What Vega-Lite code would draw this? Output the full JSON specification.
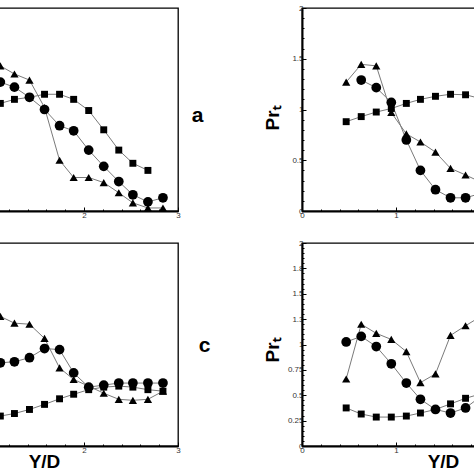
{
  "$schema": "https://vega.github.io/schema/vega-lite/v6.json",
  "background": "white",
  "padding": {"left": -107, "top": 3, "right": -111, "bottom": 0},
  "columns": 2,
  "spacing": {"row": 32, "column": 124},
  "bounds": "flush",
  "datasets": {
    "pr": [
      {"panel": "a", "series": "tr", "yd": 1.11, "prt": 1.43},
      {"panel": "a", "series": "tr", "yd": 1.26, "prt": 1.35},
      {"panel": "a", "series": "tr", "yd": 1.42, "prt": 1.29},
      {"panel": "a", "series": "tr", "yd": 1.58, "prt": 1.02},
      {"panel": "a", "series": "tr", "yd": 1.74, "prt": 0.5},
      {"panel": "a", "series": "tr", "yd": 1.89, "prt": 0.33},
      {"panel": "a", "series": "tr", "yd": 2.05, "prt": 0.33},
      {"panel": "a", "series": "tr", "yd": 2.21, "prt": 0.28},
      {"panel": "a", "series": "tr", "yd": 2.37, "prt": 0.18},
      {"panel": "a", "series": "tr", "yd": 2.52, "prt": 0.08},
      {"panel": "a", "series": "tr", "yd": 2.68, "prt": 0.03},
      {"panel": "a", "series": "tr", "yd": 2.84, "prt": 0.03},
      {"panel": "a", "series": "ci", "yd": 1.11, "prt": 1.27},
      {"panel": "a", "series": "ci", "yd": 1.26, "prt": 1.22},
      {"panel": "a", "series": "ci", "yd": 1.42, "prt": 1.12},
      {"panel": "a", "series": "ci", "yd": 1.58, "prt": 1.0},
      {"panel": "a", "series": "ci", "yd": 1.74, "prt": 0.84},
      {"panel": "a", "series": "ci", "yd": 1.89, "prt": 0.79},
      {"panel": "a", "series": "ci", "yd": 2.05, "prt": 0.6},
      {"panel": "a", "series": "ci", "yd": 2.21, "prt": 0.44},
      {"panel": "a", "series": "ci", "yd": 2.37, "prt": 0.29},
      {"panel": "a", "series": "ci", "yd": 2.52, "prt": 0.16},
      {"panel": "a", "series": "ci", "yd": 2.68, "prt": 0.09},
      {"panel": "a", "series": "ci", "yd": 2.84, "prt": 0.13},
      {"panel": "a", "series": "sq", "yd": 1.11, "prt": 1.06},
      {"panel": "a", "series": "sq", "yd": 1.26, "prt": 1.1},
      {"panel": "a", "series": "sq", "yd": 1.42, "prt": 1.12},
      {"panel": "a", "series": "sq", "yd": 1.58, "prt": 1.15},
      {"panel": "a", "series": "sq", "yd": 1.74, "prt": 1.15},
      {"panel": "a", "series": "sq", "yd": 1.89, "prt": 1.1},
      {"panel": "a", "series": "sq", "yd": 2.05, "prt": 0.99},
      {"panel": "a", "series": "sq", "yd": 2.21, "prt": 0.8},
      {"panel": "a", "series": "sq", "yd": 2.37, "prt": 0.6},
      {"panel": "a", "series": "sq", "yd": 2.52, "prt": 0.47},
      {"panel": "a", "series": "sq", "yd": 2.68, "prt": 0.4},
      {"panel": "b", "series": "tr", "yd": 0.47, "prt": 1.27},
      {"panel": "b", "series": "tr", "yd": 0.63, "prt": 1.445},
      {"panel": "b", "series": "tr", "yd": 0.79, "prt": 1.43},
      {"panel": "b", "series": "tr", "yd": 0.95, "prt": 0.97},
      {"panel": "b", "series": "tr", "yd": 1.11, "prt": 0.76},
      {"panel": "b", "series": "tr", "yd": 1.26, "prt": 0.68},
      {"panel": "b", "series": "tr", "yd": 1.42, "prt": 0.58},
      {"panel": "b", "series": "tr", "yd": 1.58, "prt": 0.42},
      {"panel": "b", "series": "tr", "yd": 1.74, "prt": 0.355},
      {"panel": "b", "series": "tr", "yd": 1.89, "prt": 0.29},
      {"panel": "b", "series": "ci", "yd": 0.63, "prt": 1.29},
      {"panel": "b", "series": "ci", "yd": 0.79, "prt": 1.215},
      {"panel": "b", "series": "ci", "yd": 0.95, "prt": 1.07},
      {"panel": "b", "series": "ci", "yd": 1.11, "prt": 0.7},
      {"panel": "b", "series": "ci", "yd": 1.26, "prt": 0.4},
      {"panel": "b", "series": "ci", "yd": 1.42, "prt": 0.21},
      {"panel": "b", "series": "ci", "yd": 1.58, "prt": 0.13},
      {"panel": "b", "series": "ci", "yd": 1.74, "prt": 0.13},
      {"panel": "b", "series": "ci", "yd": 1.89, "prt": 0.17},
      {"panel": "b", "series": "sq", "yd": 0.47, "prt": 0.88},
      {"panel": "b", "series": "sq", "yd": 0.63, "prt": 0.93},
      {"panel": "b", "series": "sq", "yd": 0.79, "prt": 0.975},
      {"panel": "b", "series": "sq", "yd": 0.95, "prt": 1.01},
      {"panel": "b", "series": "sq", "yd": 1.11, "prt": 1.06},
      {"panel": "b", "series": "sq", "yd": 1.26, "prt": 1.1},
      {"panel": "b", "series": "sq", "yd": 1.42, "prt": 1.13},
      {"panel": "b", "series": "sq", "yd": 1.58, "prt": 1.15},
      {"panel": "b", "series": "sq", "yd": 1.74, "prt": 1.145},
      {"panel": "b", "series": "sq", "yd": 1.89, "prt": 1.11},
      {"panel": "c", "series": "tr", "yd": 1.11, "prt": 1.277},
      {"panel": "c", "series": "tr", "yd": 1.26, "prt": 1.21},
      {"panel": "c", "series": "tr", "yd": 1.42, "prt": 1.2},
      {"panel": "c", "series": "tr", "yd": 1.58, "prt": 1.06},
      {"panel": "c", "series": "tr", "yd": 1.74, "prt": 0.77},
      {"panel": "c", "series": "tr", "yd": 1.89, "prt": 0.655},
      {"panel": "c", "series": "tr", "yd": 2.05, "prt": 0.59},
      {"panel": "c", "series": "tr", "yd": 2.21, "prt": 0.52},
      {"panel": "c", "series": "tr", "yd": 2.37, "prt": 0.46},
      {"panel": "c", "series": "tr", "yd": 2.52, "prt": 0.45},
      {"panel": "c", "series": "tr", "yd": 2.68, "prt": 0.46},
      {"panel": "c", "series": "tr", "yd": 2.84, "prt": 0.54},
      {"panel": "c", "series": "ci", "yd": 1.11, "prt": 0.82},
      {"panel": "c", "series": "ci", "yd": 1.26, "prt": 0.83},
      {"panel": "c", "series": "ci", "yd": 1.42, "prt": 0.87},
      {"panel": "c", "series": "ci", "yd": 1.58, "prt": 0.96},
      {"panel": "c", "series": "ci", "yd": 1.74, "prt": 0.95},
      {"panel": "c", "series": "ci", "yd": 1.89, "prt": 0.72},
      {"panel": "c", "series": "ci", "yd": 2.05, "prt": 0.58},
      {"panel": "c", "series": "ci", "yd": 2.21, "prt": 0.6},
      {"panel": "c", "series": "ci", "yd": 2.37, "prt": 0.62},
      {"panel": "c", "series": "ci", "yd": 2.52, "prt": 0.62},
      {"panel": "c", "series": "ci", "yd": 2.68, "prt": 0.62},
      {"panel": "c", "series": "ci", "yd": 2.84, "prt": 0.62},
      {"panel": "c", "series": "sq", "yd": 1.11, "prt": 0.295},
      {"panel": "c", "series": "sq", "yd": 1.26, "prt": 0.32},
      {"panel": "c", "series": "sq", "yd": 1.42, "prt": 0.36},
      {"panel": "c", "series": "sq", "yd": 1.58, "prt": 0.41},
      {"panel": "c", "series": "sq", "yd": 1.74, "prt": 0.465},
      {"panel": "c", "series": "sq", "yd": 1.89, "prt": 0.51},
      {"panel": "c", "series": "sq", "yd": 2.05, "prt": 0.555},
      {"panel": "c", "series": "sq", "yd": 2.21, "prt": 0.58},
      {"panel": "c", "series": "sq", "yd": 2.37, "prt": 0.59},
      {"panel": "c", "series": "sq", "yd": 2.52, "prt": 0.58},
      {"panel": "c", "series": "sq", "yd": 2.68, "prt": 0.555},
      {"panel": "c", "series": "sq", "yd": 2.84, "prt": 0.54},
      {"panel": "d", "series": "tr", "yd": 0.47, "prt": 0.66},
      {"panel": "d", "series": "tr", "yd": 0.63, "prt": 1.2},
      {"panel": "d", "series": "tr", "yd": 0.79, "prt": 1.11},
      {"panel": "d", "series": "tr", "yd": 0.95, "prt": 1.05},
      {"panel": "d", "series": "tr", "yd": 1.11, "prt": 0.93},
      {"panel": "d", "series": "tr", "yd": 1.26, "prt": 0.625},
      {"panel": "d", "series": "tr", "yd": 1.42, "prt": 0.71},
      {"panel": "d", "series": "tr", "yd": 1.58, "prt": 1.09},
      {"panel": "d", "series": "tr", "yd": 1.74, "prt": 1.185},
      {"panel": "d", "series": "tr", "yd": 1.89, "prt": 1.27},
      {"panel": "d", "series": "ci", "yd": 0.47, "prt": 1.025},
      {"panel": "d", "series": "ci", "yd": 0.63, "prt": 1.08},
      {"panel": "d", "series": "ci", "yd": 0.79, "prt": 0.98},
      {"panel": "d", "series": "ci", "yd": 0.95, "prt": 0.81},
      {"panel": "d", "series": "ci", "yd": 1.11, "prt": 0.62},
      {"panel": "d", "series": "ci", "yd": 1.26, "prt": 0.46},
      {"panel": "d", "series": "ci", "yd": 1.42, "prt": 0.36},
      {"panel": "d", "series": "ci", "yd": 1.58, "prt": 0.325},
      {"panel": "d", "series": "ci", "yd": 1.74, "prt": 0.375},
      {"panel": "d", "series": "ci", "yd": 1.89, "prt": 0.48},
      {"panel": "d", "series": "sq", "yd": 0.47, "prt": 0.375},
      {"panel": "d", "series": "sq", "yd": 0.63, "prt": 0.315},
      {"panel": "d", "series": "sq", "yd": 0.79, "prt": 0.285},
      {"panel": "d", "series": "sq", "yd": 0.95, "prt": 0.285},
      {"panel": "d", "series": "sq", "yd": 1.11, "prt": 0.295},
      {"panel": "d", "series": "sq", "yd": 1.26, "prt": 0.325},
      {"panel": "d", "series": "sq", "yd": 1.42, "prt": 0.36},
      {"panel": "d", "series": "sq", "yd": 1.58, "prt": 0.415},
      {"panel": "d", "series": "sq", "yd": 1.74, "prt": 0.47},
      {"panel": "d", "series": "sq", "yd": 1.89, "prt": 0.51}
    ]
  },
  "concat": [
    {
      "width": 282, "height": 203,
      "data": {"name": "pr"},
      "transform": [{"filter": "datum.panel === 'a'"}],
      "layer": [
        {
          "mark": {"type": "line", "color": "#7a7a7a", "strokeWidth": 1},
          "encoding": {
            "x": {"field": "yd", "type": "quantitative", "scale": {"domain": [0, 3], "nice": false},
                  "axis": {"values": [0, 1, 2, 3], "tickSize": -4, "domainWidth": 2, "labelPadding": 4, "title": null}},
            "y": {"field": "prt", "type": "quantitative", "scale": {"domain": [0, 2], "nice": false},
                  "axis": {"orient": "right", "labels": false, "ticks": false, "domain": false, "title": "a",
                           "titleAngle": 0, "titleX": 19, "titleY": 107, "titleAlign": "center", "titleBaseline": "middle", "titleFontSize": 21}},
            "detail": {"field": "series"}
          }
        },
        {
          "mark": {"type": "point", "filled": true, "color": "black", "opacity": 1},
          "encoding": {
            "x": {"field": "yd", "type": "quantitative",
                  "axis": {"orient": "bottom", "values": [0, 0.2, 0.4, 0.6, 0.8, 1, 1.2, 1.4, 1.6, 1.8, 2, 2.2, 2.4, 2.6, 2.8, 3], "labels": false, "domain": false, "tickSize": -2, "title": null}},
            "y": {"field": "prt", "type": "quantitative", "axis": null},
            "shape": {"field": "series", "type": "nominal", "scale": {"domain": ["sq", "ci", "tr"], "range": ["square", "circle", "triangle-up"]}, "legend": null},
            "size": {"field": "series", "type": "nominal", "scale": {"type": "ordinal", "domain": ["sq", "ci", "tr"], "range": [48, 95, 68]}, "legend": null}
          }
        }
      ],
      "resolve": {"axis": {"x": "independent", "y": "independent"}}
    },
    {
      "width": 282, "height": 203,
      "data": {"name": "pr"},
      "transform": [{"filter": "datum.panel === 'b'"}],
      "layer": [
        {
          "mark": {"type": "line", "color": "#7a7a7a", "strokeWidth": 1},
          "encoding": {
            "x": {"field": "yd", "type": "quantitative", "scale": {"domain": [0, 3], "nice": false},
                  "axis": {"values": [0, 1, 2, 3], "tickSize": -4, "domainWidth": 2, "labelPadding": 4, "title": null}},
            "y": {"field": "prt", "type": "quantitative", "scale": {"domain": [0, 2], "nice": false},
                  "axis": {"values": [0, 0.5, 1, 1.5, 2], "format": "~g", "tickSize": -4, "domainWidth": 2, "title": "Prₜ",
                           "titleAngle": 270, "titleX": -24, "titleY": 110, "titleAlign": "center", "titleBaseline": "alphabetic"}},
            "detail": {"field": "series"}
          }
        },
        {
          "mark": {"type": "point", "filled": true, "color": "black", "opacity": 1},
          "encoding": {
            "x": {"field": "yd", "type": "quantitative",
                  "axis": {"orient": "bottom", "values": [0, 0.2, 0.4, 0.6, 0.8, 1, 1.2, 1.4, 1.6, 1.8, 2, 2.2, 2.4, 2.6, 2.8, 3], "labels": false, "domain": false, "tickSize": -2, "title": null}},
            "y": {"field": "prt", "type": "quantitative",
                  "axis": {"orient": "left", "values": [0, 0.1, 0.2, 0.3, 0.4, 0.5, 0.6, 0.7, 0.8, 0.9, 1, 1.1, 1.2, 1.3, 1.4, 1.5, 1.6, 1.7, 1.8, 1.9, 2], "labels": false, "domain": false, "tickSize": -2, "title": null}},
            "shape": {"field": "series", "type": "nominal", "scale": {"domain": ["sq", "ci", "tr"], "range": ["square", "circle", "triangle-up"]}, "legend": null},
            "size": {"field": "series", "type": "nominal", "scale": {"type": "ordinal", "domain": ["sq", "ci", "tr"], "range": [48, 95, 68]}, "legend": null}
          }
        }
      ],
      "resolve": {"axis": {"x": "independent", "y": "independent"}}
    },
    {
      "width": 282, "height": 203,
      "data": {"name": "pr"},
      "transform": [{"filter": "datum.panel === 'c'"}],
      "layer": [
        {
          "mark": {"type": "line", "color": "#7a7a7a", "strokeWidth": 1},
          "encoding": {
            "x": {"field": "yd", "type": "quantitative", "scale": {"domain": [0, 3], "nice": false},
                  "axis": {"values": [0, 1, 2, 3], "tickSize": -4, "domainWidth": 2, "labelPadding": 4, "title": "Y/D",
                           "titleX": 148, "titleY": 21, "titleAlign": "center", "titleBaseline": "alphabetic"}},
            "y": {"field": "prt", "type": "quantitative", "scale": {"domain": [0, 2], "nice": false},
                  "axis": {"orient": "right", "labels": false, "ticks": false, "domain": false, "title": "c",
                           "titleAngle": 0, "titleX": 26, "titleY": 102, "titleAlign": "center", "titleBaseline": "middle", "titleFontSize": 21}},
            "detail": {"field": "series"}
          }
        },
        {
          "mark": {"type": "point", "filled": true, "color": "black", "opacity": 1},
          "encoding": {
            "x": {"field": "yd", "type": "quantitative",
                  "axis": {"orient": "bottom", "values": [0, 0.2, 0.4, 0.6, 0.8, 1, 1.2, 1.4, 1.6, 1.8, 2, 2.2, 2.4, 2.6, 2.8, 3], "labels": false, "domain": false, "tickSize": -2, "title": null}},
            "y": {"field": "prt", "type": "quantitative", "axis": null},
            "shape": {"field": "series", "type": "nominal", "scale": {"domain": ["sq", "ci", "tr"], "range": ["square", "circle", "triangle-up"]}, "legend": null},
            "size": {"field": "series", "type": "nominal", "scale": {"type": "ordinal", "domain": ["sq", "ci", "tr"], "range": [48, 95, 68]}, "legend": null}
          }
        }
      ],
      "resolve": {"axis": {"x": "independent", "y": "independent"}}
    },
    {
      "width": 282, "height": 203,
      "data": {"name": "pr"},
      "transform": [{"filter": "datum.panel === 'd'"}],
      "layer": [
        {
          "mark": {"type": "line", "color": "#7a7a7a", "strokeWidth": 1},
          "encoding": {
            "x": {"field": "yd", "type": "quantitative", "scale": {"domain": [0, 3], "nice": false},
                  "axis": {"values": [0, 1, 2, 3], "tickSize": -4, "domainWidth": 2, "labelPadding": 4, "title": "Y/D",
                           "titleY": 21, "titleBaseline": "alphabetic"}},
            "y": {"field": "prt", "type": "quantitative", "scale": {"domain": [0, 2], "nice": false},
                  "axis": {"values": [0, 0.25, 0.5, 0.75, 1, 1.25, 1.5, 1.75, 2], "format": "~g", "tickSize": -4, "domainWidth": 2, "title": "Prₜ",
                           "titleAngle": 270, "titleX": -24, "titleY": 107, "titleAlign": "center", "titleBaseline": "alphabetic"}},
            "detail": {"field": "series"}
          }
        },
        {
          "mark": {"type": "point", "filled": true, "color": "black", "opacity": 1},
          "encoding": {
            "x": {"field": "yd", "type": "quantitative",
                  "axis": {"orient": "bottom", "values": [0, 0.2, 0.4, 0.6, 0.8, 1, 1.2, 1.4, 1.6, 1.8, 2, 2.2, 2.4, 2.6, 2.8, 3], "labels": false, "domain": false, "tickSize": -2, "title": null}},
            "y": {"field": "prt", "type": "quantitative",
                  "axis": {"orient": "left", "values": [0, 0.05, 0.1, 0.15, 0.2, 0.25, 0.3, 0.35, 0.4, 0.45, 0.5, 0.55, 0.6, 0.65, 0.7, 0.75, 0.8, 0.85, 0.9, 0.95, 1, 1.05, 1.1, 1.15, 1.2, 1.25, 1.3, 1.35, 1.4, 1.45, 1.5, 1.55, 1.6, 1.65, 1.7, 1.75, 1.8, 1.85, 1.9, 1.95, 2], "labels": false, "domain": false, "tickSize": -2, "title": null}},
            "shape": {"field": "series", "type": "nominal", "scale": {"domain": ["sq", "ci", "tr"], "range": ["square", "circle", "triangle-up"]}, "legend": null},
            "size": {"field": "series", "type": "nominal", "scale": {"type": "ordinal", "domain": ["sq", "ci", "tr"], "range": [48, 95, 68]}, "legend": null}
          }
        }
      ],
      "resolve": {"axis": {"x": "independent", "y": "independent"}}
    }
  ],
  "config": {
    "font": "Liberation Sans",
    "view": {"stroke": "black", "strokeWidth": 1.3},
    "axis": {
      "grid": false,
      "domainColor": "black",
      "tickColor": "black",
      "tickWidth": 1,
      "labelFont": "Liberation Sans",
      "labelFontSize": 8,
      "labelColor": "#333333",
      "labelPadding": 3,
      "labelOverlap": false,
      "labelBound": false,
      "labelFlush": false,
      "titleFont": "Liberation Sans",
      "titleFontWeight": "bold",
      "titleFontSize": 19,
      "titleColor": "black"
    }
  }
}
